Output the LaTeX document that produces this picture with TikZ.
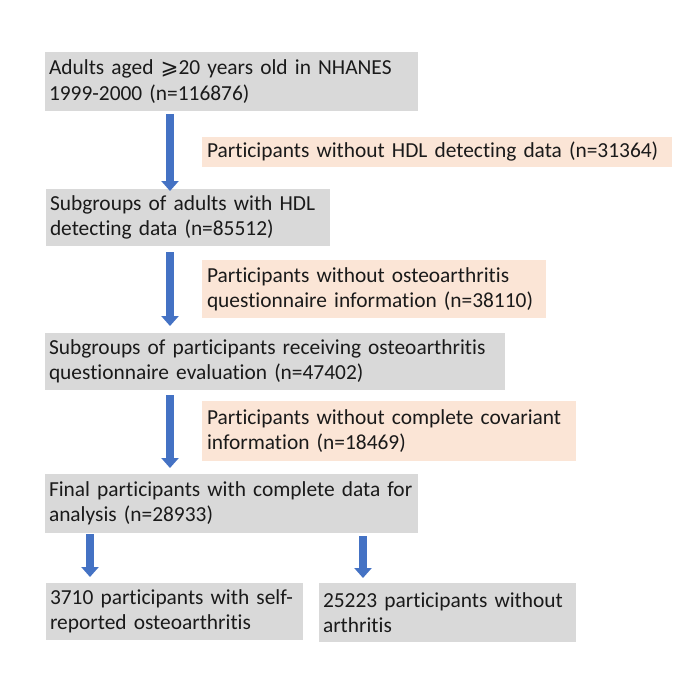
\documentclass[tikz,border=0pt]{standalone}
\usepackage{fontspec}
\setmainfont[Ligatures=NoCommon]{Carlito}
\newfontfamily\symfont{DejaVu Sans}
\usetikzlibrary{arrows.meta,positioning}
\definecolor{boxgray}{HTML}{D9D9D9}
\definecolor{boxpink}{HTML}{FBE5D6}
\definecolor{arrblue}{HTML}{4472C4}
\definecolor{txt}{HTML}{1A1A1A}
\begin{document}
\begin{tikzpicture}[x=1pt,y=1pt,
  fl/.style={anchor=north west, inner xsep=4pt, inner ysep=0pt, align=left,
    text=txt, font=\fontsize{21.4pt}{25.4pt}\selectfont, outer sep=0pt},
  graybox/.style={fl, fill=boxgray},
  pinkbox/.style={fl, fill=boxpink, inner xsep=5pt},
  bigarrow/.style={draw=arrblue, line width=7.5pt,
    -{Triangle[width=17pt,length=10pt]}}]
\useasboundingbox (0,0) rectangle (685,-682);
% boxes: width, height given explicitly
\node[graybox, minimum width=373pt, minimum height=59pt, text width=365pt] (b1) at (45,-52)
  {Adults aged {\symfont ⩾}20 years old in NHANES\\1999-2000 (n=116876)};
\node[pinkbox, minimum width=470pt, minimum height=30pt, text width=460pt] (p1) at (202,-137)
  {Participants without HDL detecting data (n=31364)};
\node[graybox, minimum width=284pt, minimum height=57pt, text width=276pt] (b2) at (46,-189)
  {Subgroups of adults with HDL\\detecting data (n=85512)};
\node[pinkbox, minimum width=344pt, minimum height=58pt, text width=334pt] (p2) at (202,-260)
  {Participants without osteoarthritis\\questionnaire information (n=38110)};
\node[graybox, minimum width=460pt, minimum height=57pt, text width=452pt] (b3) at (45,-333)
  {Subgroups of participants receiving osteoarthritis\\questionnaire evaluation (n=47402)};
\node[pinkbox, minimum width=374pt, minimum height=60pt, text width=364pt] (p3) at (202,-401)
  {Participants without complete covariant\\information (n=18469)};
\node[graybox, minimum width=373pt, minimum height=59pt, text width=365pt] (b4) at (45,-474)
  {\mbox{Final participants with complete data for}\\analysis (n=28933)};
\node[graybox, minimum width=257pt, minimum height=57pt, text width=249pt] (b5) at (46,-583)
  {3710 participants with self-\\reported osteoarthritis};
\node[graybox, minimum width=257pt, minimum height=59pt, text width=249pt] (b6) at (319,-583)
  {25223 participants without\\arthritis};
% arrows
\draw[bigarrow] ([xshift=125pt,yshift=-3pt]b1.south west) -- ([xshift=124pt,yshift=-2pt]b2.north west);
\draw[bigarrow] ([xshift=124pt,yshift=-6pt]b2.south west) -- ([xshift=125pt,yshift=7pt]b3.north west);
\draw[bigarrow] ([xshift=125pt,yshift=-5pt]b3.south west) -- ([xshift=125pt,yshift=6pt]b4.north west);
\draw[bigarrow] ([xshift=45pt,yshift=-1pt]b4.south west) -- ([xshift=44pt,yshift=6pt]b5.north west);
\draw[bigarrow] ([xshift=318pt,yshift=-3pt]b4.south west) -- ([xshift=44pt,yshift=5pt]b6.north west);
\end{tikzpicture}
\end{document}
